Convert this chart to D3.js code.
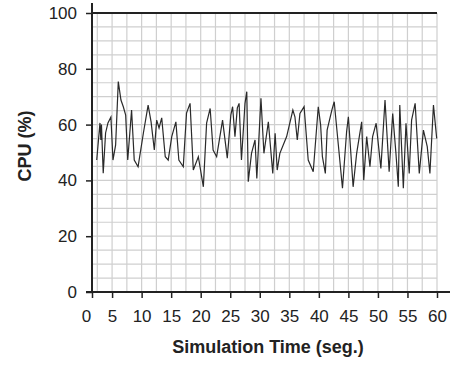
<!DOCTYPE html>
<html>
<head>
<meta charset="utf-8">
<script src="https://cdn.jsdelivr.net/npm/d3@7"></script>
<style>
	body { margin: 0; background: #fff; }
	svg text { font-family: "Liberation Sans", Arial, sans-serif; fill: #222; }
</style>
</head>
<body>
<div id="chart"></div>
<script>
/* values */
const timeSec = [
	2.4, 2.95, 3.1, 3.2, 3.5, 3.9, 4.3, 4.8, 5.15, 5.6, 6.05, 6.5, 6.9, 7.3, 7.65, 8.0,
	8.3, 8.75, 9.4, 10.3, 11.1, 11.6, 12.15, 12.55, 12.95, 13.4, 14.0, 14.5, 15.1, 15.8,
	16.3, 17.05, 17.6, 18.2, 18.75, 19.6, 20.45, 21.0, 21.6, 22.1, 22.7, 23.7, 24.5, 25.1,
	25.4, 25.8, 26.2, 26.5, 26.9, 27.5, 27.8, 28.05, 28.6, 29.2, 29.5, 30.2, 30.7, 31.45,
	32.2, 32.6, 32.95, 33.4, 34.55, 35.6, 35.95, 36.35, 36.8, 37.5, 38.2, 39.05, 39.9,
	40.3, 40.6, 41.1, 41.4, 42.2, 42.6, 43.3, 44.0, 44.7, 45.0, 45.8, 46.4, 46.85, 47.25,
	47.6, 48.1, 48.65, 49.1, 49.7, 50.5, 51.2, 51.9, 52.5, 53.05, 53.45, 53.7, 54.3,
	54.75, 55.3, 55.7, 56.3, 57.0, 57.7, 58.35, 58.8, 59.4, 59.95
];
const cpuPct = [
	47.3, 60.6, 54.5, 60.0, 42.6, 57.0, 60.6, 62.7, 47.3, 52.7, 75.4, 68.8, 66.4, 63.4, 47.3, 57.0,
	65.2, 47.3, 44.9, 57.0, 67.0, 61.0, 50.9, 61.6, 58.8, 62.4, 48.5, 47.3, 55.7, 61.0,
	47.3, 44.9, 64.1, 67.6, 43.7, 48.5, 37.7, 60.5, 65.8, 50.9, 48.5, 61.6, 48.0, 63.4,
	66.4, 55.7, 66.0, 67.6, 47.3, 67.6, 71.8, 39.5, 49.7, 54.5, 40.7, 69.4, 49.7, 61.0,
	42.5, 56.9, 43.7, 49.7, 55.7, 65.2, 62.8, 54.5, 64.0, 66.4, 47.3, 43.1, 66.4,
	59.9, 48.5, 42.5, 58.0, 65.2, 68.2, 52.7, 37.2, 57.5, 62.8, 37.7, 49.7, 55.7, 61.0,
	40.1, 55.7, 44.9, 55.7, 60.5, 44.3, 68.8, 43.1, 64.0, 49.7, 37.7, 67.0, 37.2,
	60.5, 42.5, 61.6, 67.6, 42.5, 58.0, 52.1, 42.5, 67.0, 55.0
];
const xTickValues = [1.6, 5, 10, 15, 20, 25, 30, 35, 40, 45, 50, 55, 60];
const xTickLabels = ["0", "5", "10", "15", "20", "25", "30", "35", "40", "45", "50", "55", "60"];
const yTickValues = [0, 20, 40, 60, 80, 100];
const xGridValues = d3.range(2.5, 60.01, 2.5);
const yGridValues = d3.range(5, 96, 5);

const width = 474, height = 365;
const plotLeft = 92, plotRight = 437, plotTop = 13, plotBottom = 292;

const svg = d3.select("#chart").append("svg")
	.attr("width", width)
	.attr("height", height);

const x = d3.scaleLinear().domain([1.6, 60]).range([plotLeft, plotRight]);
const y = d3.scaleLinear().domain([0, 100]).range([plotBottom, plotTop]);

// grid
svg.append("g").selectAll("line")
	.data(xGridValues)
	.join("line")
	.attr("x1", d => x(d)).attr("x2", d => x(d))
	.attr("y1", plotTop).attr("y2", plotBottom)
	.attr("stroke", "#cfcfcf")
	.attr("stroke-width", 1.2);

svg.append("g").selectAll("line")
	.data(yGridValues)
	.join("line")
	.attr("x1", plotLeft).attr("x2", plotRight)
	.attr("y1", d => y(d)).attr("y2", d => y(d))
	.attr("stroke", "#cfcfcf")
	.attr("stroke-width", 1.2);

// top border
svg.append("line")
	.attr("x1", plotLeft).attr("x2", plotRight)
	.attr("y1", y(100)).attr("y2", y(100))
	.attr("stroke", "#222")
	.attr("stroke-width", 2);

// cpu line
const points = timeSec.map((t, i) => [t, cpuPct[i]]);
svg.append("path")
	.datum(points)
	.attr("fill", "none")
	.attr("stroke", "#2a2a2a")
	.attr("stroke-width", 1.2)
	.attr("d", d3.line().x(d => x(d[0])).y(d => y(d[1])));

// x axis
const xAxis = svg.append("g")
	.attr("transform", `translate(0,${plotBottom})`)
	.call(d3.axisBottom(x)
		.tickValues(xTickValues)
		.tickFormat((d, i) => xTickLabels[i])
		.tickSize(6)
		.tickSizeOuter(0));
xAxis.select(".domain").remove();
xAxis.append("line")
	.attr("x1", plotLeft - 6).attr("x2", 450)
	.attr("stroke", "#222")
	.attr("stroke-width", 2);
xAxis.selectAll(".tick line").attr("stroke", "#222").attr("stroke-width", 1.5);
xAxis.selectAll(".tick text")
	.attr("y", 18)
	.attr("dy", "0.71em")
	.attr("font-size", "17px")
	.attr("font-family", null)
	.attr("fill", "#222");
xAxis.select(".tick text").attr("dx", -6);

// y axis
const yAxis = svg.append("g")
	.attr("transform", `translate(${plotLeft},0)`)
	.call(d3.axisLeft(y)
		.tickValues(yTickValues)
		.tickSize(6)
		.tickSizeOuter(0));
yAxis.select(".domain").remove();
yAxis.append("line")
	.attr("y1", 3).attr("y2", plotBottom)
	.attr("stroke", "#222")
	.attr("stroke-width", 2);
yAxis.selectAll(".tick line").attr("stroke", "#222").attr("stroke-width", 1.5);
yAxis.selectAll(".tick text")
	.attr("x", -15)
	.attr("font-size", "17px")
	.attr("font-family", null)
	.attr("fill", "#222");

// axis titles
svg.append("text")
	.attr("x", 268)
	.attr("y", 353)
	.attr("text-anchor", "middle")
	.attr("font-size", "18px")
	.attr("font-weight", "bold")
	.text("Simulation Time (seg.)");

svg.append("text")
	.attr("transform", "translate(31,146) rotate(-90)")
	.attr("text-anchor", "middle")
	.attr("font-size", "18px")
	.attr("font-weight", "bold")
	.text("CPU (%)");
</script>
</body>
</html>
